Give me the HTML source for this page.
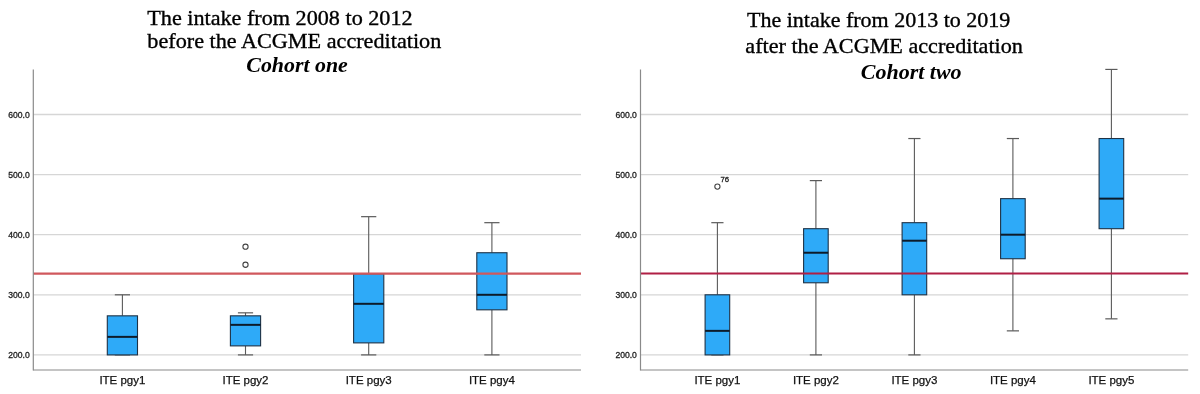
<!DOCTYPE html>
<html><head><meta charset="utf-8"><title>ITE box plots</title>
<style>
html,body{margin:0;padding:0;background:#fff;}
body{width:1200px;height:394px;overflow:hidden;position:relative;}
svg{position:absolute;left:0;top:0;}
.t{font-family:"Liberation Serif","Times New Roman",serif;font-size:21.5px;fill:#000;stroke:#000;stroke-width:0.35px;}
.tb{font-family:"Liberation Serif","Times New Roman",serif;font-size:21.5px;font-weight:bold;font-style:italic;fill:#000;}
.yl{font-family:"Liberation Sans",Arial,sans-serif;font-size:8.6px;fill:#222;stroke:#222;stroke-width:0.3px;}
.xl{font-family:"Liberation Sans",Arial,sans-serif;font-size:11.5px;fill:#111;stroke:#111;stroke-width:0.25px;}
.ol{font-family:"Liberation Sans",Arial,sans-serif;font-size:7.8px;fill:#222;stroke:#222;stroke-width:0.3px;}
</style></head>
<body>
<svg width="1200" height="394" viewBox="0 0 1200 394">
<rect x="0" y="0" width="1200" height="394" fill="#fff"/>
<text class="t" x="147.3" y="24.7" textLength="265.3" lengthAdjust="spacingAndGlyphs">The intake from 2008 to 2012</text>
<text class="t" x="147.3" y="48.1" textLength="294" lengthAdjust="spacingAndGlyphs">before the ACGME accreditation</text>
<text class="tb" x="246.3" y="71.5" textLength="101.5" lengthAdjust="spacingAndGlyphs">Cohort one</text>
<text class="t" x="747" y="26.6" textLength="263.3" lengthAdjust="spacingAndGlyphs">The intake from 2013 to 2019</text>
<text class="t" x="745.3" y="53" textLength="277.6" lengthAdjust="spacingAndGlyphs">after the ACGME accreditation</text>
<text class="tb" x="860.8" y="78.8" textLength="100.8" lengthAdjust="spacingAndGlyphs">Cohort two</text>
<line x1="33.3" x2="581" y1="114.5" y2="114.5" stroke="#d6d6d6" stroke-width="1.3"/>
<line x1="33.3" x2="581" y1="174.6" y2="174.6" stroke="#d6d6d6" stroke-width="1.3"/>
<line x1="33.3" x2="581" y1="234.7" y2="234.7" stroke="#d6d6d6" stroke-width="1.3"/>
<line x1="33.3" x2="581" y1="294.8" y2="294.8" stroke="#d6d6d6" stroke-width="1.3"/>
<line x1="33.3" x2="581" y1="354.9" y2="354.9" stroke="#d6d6d6" stroke-width="1.3"/>
<text x="29.699999999999996" y="117.5" class="yl" text-anchor="end">600.0</text>
<text x="29.699999999999996" y="177.6" class="yl" text-anchor="end">500.0</text>
<text x="29.699999999999996" y="237.7" class="yl" text-anchor="end">400.0</text>
<text x="29.699999999999996" y="297.8" class="yl" text-anchor="end">300.0</text>
<text x="29.699999999999996" y="357.9" class="yl" text-anchor="end">200.0</text>
<line x1="122.4" x2="122.4" y1="294.8" y2="315.83" stroke="#5a5a5a" stroke-width="1.1"/>
<line x1="122.4" x2="122.4" y1="354.9" y2="354.9" stroke="#5a5a5a" stroke-width="1.1"/>
<line x1="114.80000000000001" x2="130.0" y1="294.8" y2="294.8" stroke="#5a5a5a" stroke-width="1.2"/>
<line x1="114.80000000000001" x2="130.0" y1="354.9" y2="354.9" stroke="#5a5a5a" stroke-width="1.2"/>
<rect x="107.30000000000001" y="315.83" width="30.2" height="39.07" fill="#2eaaf8" stroke="#1e3246" stroke-width="1.1"/>
<line x1="107.30000000000001" x2="137.5" y1="336.87" y2="336.87" stroke="#0d1b2a" stroke-width="2"/>
<text x="122.4" y="383.8" class="xl" text-anchor="middle">ITE pgy1</text>
<line x1="245.5" x2="245.5" y1="312.83" y2="315.83" stroke="#5a5a5a" stroke-width="1.1"/>
<line x1="245.5" x2="245.5" y1="345.88" y2="354.9" stroke="#5a5a5a" stroke-width="1.1"/>
<line x1="237.9" x2="253.1" y1="312.83" y2="312.83" stroke="#5a5a5a" stroke-width="1.2"/>
<line x1="237.9" x2="253.1" y1="354.9" y2="354.9" stroke="#5a5a5a" stroke-width="1.2"/>
<rect x="230.4" y="315.83" width="30.2" height="30.05" fill="#2eaaf8" stroke="#1e3246" stroke-width="1.1"/>
<line x1="230.4" x2="260.6" y1="324.85" y2="324.85" stroke="#0d1b2a" stroke-width="2"/>
<circle cx="245.5" cy="264.75" r="2.6" fill="none" stroke="#444" stroke-width="1.1"/>
<circle cx="245.5" cy="246.72" r="2.6" fill="none" stroke="#444" stroke-width="1.1"/>
<text x="245.5" y="383.8" class="xl" text-anchor="middle">ITE pgy2</text>
<line x1="368.7" x2="368.7" y1="216.67" y2="273.76" stroke="#5a5a5a" stroke-width="1.1"/>
<line x1="368.7" x2="368.7" y1="342.88" y2="354.9" stroke="#5a5a5a" stroke-width="1.1"/>
<line x1="361.09999999999997" x2="376.3" y1="216.67" y2="216.67" stroke="#5a5a5a" stroke-width="1.2"/>
<line x1="361.09999999999997" x2="376.3" y1="354.9" y2="354.9" stroke="#5a5a5a" stroke-width="1.2"/>
<rect x="353.59999999999997" y="273.76" width="30.2" height="69.12" fill="#2eaaf8" stroke="#1e3246" stroke-width="1.1"/>
<line x1="353.59999999999997" x2="383.8" y1="303.81" y2="303.81" stroke="#0d1b2a" stroke-width="2"/>
<text x="368.7" y="383.8" class="xl" text-anchor="middle">ITE pgy3</text>
<line x1="491.9" x2="491.9" y1="222.68" y2="252.73" stroke="#5a5a5a" stroke-width="1.1"/>
<line x1="491.9" x2="491.9" y1="309.82" y2="354.9" stroke="#5a5a5a" stroke-width="1.1"/>
<line x1="484.29999999999995" x2="499.5" y1="222.68" y2="222.68" stroke="#5a5a5a" stroke-width="1.2"/>
<line x1="484.29999999999995" x2="499.5" y1="354.9" y2="354.9" stroke="#5a5a5a" stroke-width="1.2"/>
<rect x="476.79999999999995" y="252.73" width="30.2" height="57.09" fill="#2eaaf8" stroke="#1e3246" stroke-width="1.1"/>
<line x1="476.79999999999995" x2="507.0" y1="294.8" y2="294.8" stroke="#0d1b2a" stroke-width="2"/>
<text x="491.9" y="383.8" class="xl" text-anchor="middle">ITE pgy4</text>
<line x1="33.3" x2="581" y1="273.6" y2="273.6" stroke="#d0585d" stroke-width="2.2"/>
<line x1="33.3" x2="33.3" y1="69.4" y2="370.6" stroke="#8a8a8a" stroke-width="1.2"/>
<line x1="33.3" x2="581" y1="370" y2="370" stroke="#8a8a8a" stroke-width="1.2"/>
<line x1="640.5" x2="1188.2" y1="114.5" y2="114.5" stroke="#d6d6d6" stroke-width="1.3"/>
<line x1="640.5" x2="1188.2" y1="174.6" y2="174.6" stroke="#d6d6d6" stroke-width="1.3"/>
<line x1="640.5" x2="1188.2" y1="234.7" y2="234.7" stroke="#d6d6d6" stroke-width="1.3"/>
<line x1="640.5" x2="1188.2" y1="294.8" y2="294.8" stroke="#d6d6d6" stroke-width="1.3"/>
<line x1="640.5" x2="1188.2" y1="354.9" y2="354.9" stroke="#d6d6d6" stroke-width="1.3"/>
<text x="636.9" y="117.5" class="yl" text-anchor="end">600.0</text>
<text x="636.9" y="177.6" class="yl" text-anchor="end">500.0</text>
<text x="636.9" y="237.7" class="yl" text-anchor="end">400.0</text>
<text x="636.9" y="297.8" class="yl" text-anchor="end">300.0</text>
<text x="636.9" y="357.9" class="yl" text-anchor="end">200.0</text>
<line x1="717.4" x2="717.4" y1="222.68" y2="294.8" stroke="#5a5a5a" stroke-width="1.1"/>
<line x1="717.4" x2="717.4" y1="354.9" y2="354.9" stroke="#5a5a5a" stroke-width="1.1"/>
<line x1="711.3" x2="723.5" y1="222.68" y2="222.68" stroke="#5a5a5a" stroke-width="1.2"/>
<line x1="711.3" x2="723.5" y1="354.9" y2="354.9" stroke="#5a5a5a" stroke-width="1.2"/>
<rect x="705.1" y="294.8" width="24.6" height="60.1" fill="#2eaaf8" stroke="#1e3246" stroke-width="1.1"/>
<line x1="705.1" x2="729.6999999999999" y1="330.86" y2="330.86" stroke="#0d1b2a" stroke-width="2"/>
<circle cx="717.4" cy="186.62" r="2.6" fill="none" stroke="#444" stroke-width="1.1"/>
<text x="717.4" y="383.8" class="xl" text-anchor="middle">ITE pgy1</text>
<line x1="815.9" x2="815.9" y1="180.61" y2="228.69" stroke="#5a5a5a" stroke-width="1.1"/>
<line x1="815.9" x2="815.9" y1="282.78" y2="354.9" stroke="#5a5a5a" stroke-width="1.1"/>
<line x1="809.8" x2="822.0" y1="180.61" y2="180.61" stroke="#5a5a5a" stroke-width="1.2"/>
<line x1="809.8" x2="822.0" y1="354.9" y2="354.9" stroke="#5a5a5a" stroke-width="1.2"/>
<rect x="803.6" y="228.69" width="24.6" height="54.09" fill="#2eaaf8" stroke="#1e3246" stroke-width="1.1"/>
<line x1="803.6" x2="828.1999999999999" y1="252.73" y2="252.73" stroke="#0d1b2a" stroke-width="2"/>
<text x="815.9" y="383.8" class="xl" text-anchor="middle">ITE pgy2</text>
<line x1="914.4" x2="914.4" y1="138.54" y2="222.68" stroke="#5a5a5a" stroke-width="1.1"/>
<line x1="914.4" x2="914.4" y1="294.8" y2="354.9" stroke="#5a5a5a" stroke-width="1.1"/>
<line x1="908.3" x2="920.5" y1="138.54" y2="138.54" stroke="#5a5a5a" stroke-width="1.2"/>
<line x1="908.3" x2="920.5" y1="354.9" y2="354.9" stroke="#5a5a5a" stroke-width="1.2"/>
<rect x="902.1" y="222.68" width="24.6" height="72.12" fill="#2eaaf8" stroke="#1e3246" stroke-width="1.1"/>
<line x1="902.1" x2="926.6999999999999" y1="240.71" y2="240.71" stroke="#0d1b2a" stroke-width="2"/>
<text x="914.4" y="383.8" class="xl" text-anchor="middle">ITE pgy3</text>
<line x1="1012.9" x2="1012.9" y1="138.54" y2="198.64" stroke="#5a5a5a" stroke-width="1.1"/>
<line x1="1012.9" x2="1012.9" y1="258.74" y2="330.86" stroke="#5a5a5a" stroke-width="1.1"/>
<line x1="1006.8" x2="1019.0" y1="138.54" y2="138.54" stroke="#5a5a5a" stroke-width="1.2"/>
<line x1="1006.8" x2="1019.0" y1="330.86" y2="330.86" stroke="#5a5a5a" stroke-width="1.2"/>
<rect x="1000.6" y="198.64" width="24.6" height="60.1" fill="#2eaaf8" stroke="#1e3246" stroke-width="1.1"/>
<line x1="1000.6" x2="1025.2" y1="234.7" y2="234.7" stroke="#0d1b2a" stroke-width="2"/>
<text x="1012.9" y="383.8" class="xl" text-anchor="middle">ITE pgy4</text>
<line x1="1111.4" x2="1111.4" y1="69.43" y2="138.54" stroke="#5a5a5a" stroke-width="1.1"/>
<line x1="1111.4" x2="1111.4" y1="228.69" y2="318.84" stroke="#5a5a5a" stroke-width="1.1"/>
<line x1="1105.3000000000002" x2="1117.5" y1="69.43" y2="69.43" stroke="#5a5a5a" stroke-width="1.2"/>
<line x1="1105.3000000000002" x2="1117.5" y1="318.84" y2="318.84" stroke="#5a5a5a" stroke-width="1.2"/>
<rect x="1099.1000000000001" y="138.54" width="24.6" height="90.15" fill="#2eaaf8" stroke="#1e3246" stroke-width="1.1"/>
<line x1="1099.1000000000001" x2="1123.7" y1="198.64" y2="198.64" stroke="#0d1b2a" stroke-width="2"/>
<text x="1111.4" y="383.8" class="xl" text-anchor="middle">ITE pgy5</text>
<line x1="640.5" x2="1188.2" y1="273.5" y2="273.5" stroke="#b01f45" stroke-width="2.2"/>
<line x1="640.5" x2="640.5" y1="69.4" y2="370.6" stroke="#8a8a8a" stroke-width="1.2"/>
<line x1="640.5" x2="1188.2" y1="370" y2="370" stroke="#8a8a8a" stroke-width="1.2"/>
<text class="ol" x="720.4" y="181.8">76</text>
</svg>
</body></html>
